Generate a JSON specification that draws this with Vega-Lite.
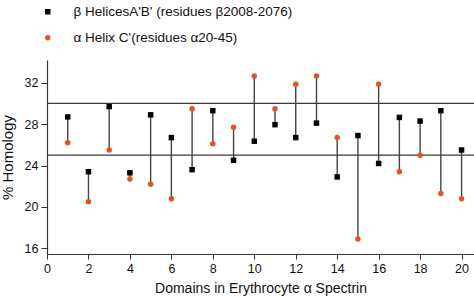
{
  "$schema": "https://vega.github.io/schema/vega-lite/v6.json",
  "width": 427,
  "height": 194,
  "autosize": {"type": "none"},
  "padding": {"left": 47, "top": 60, "right": 0, "bottom": 43},
  "background": "white",
  "config": {
    "view": {"stroke": null},
    "font": "Liberation Sans",
    "axis": {
      "domainColor": "#333333",
      "domainWidth": 1.2,
      "tickColor": "#333333",
      "tickWidth": 1,
      "labelColor": "#111111",
      "labelFont": "Liberation Sans",
      "labelFontSize": 12.5,
      "labelOverlap": false,
      "labelSeparation": -15,
      "titleFont": "Liberation Sans",
      "titleFontWeight": "normal",
      "titleColor": "#111111",
      "grid": false
    }
  },
  "data": {
    "values": [
      {"domain": 1, "beta": 28.7, "alpha": 26.2},
      {"domain": 2, "beta": 23.4, "alpha": 20.5},
      {"domain": 3, "beta": 29.7, "alpha": 25.5},
      {"domain": 4, "beta": 23.3, "alpha": 22.7},
      {"domain": 5, "beta": 28.9, "alpha": 22.2},
      {"domain": 6, "beta": 26.7, "alpha": 20.8},
      {"domain": 7, "beta": 23.6, "alpha": 29.5},
      {"domain": 8, "beta": 29.3, "alpha": 26.1},
      {"domain": 9, "beta": 24.5, "alpha": 27.7},
      {"domain": 10, "beta": 26.35, "alpha": 32.65},
      {"domain": 11, "beta": 27.95, "alpha": 29.5},
      {"domain": 12, "beta": 26.7, "alpha": 31.85},
      {"domain": 13, "beta": 28.1, "alpha": 32.65},
      {"domain": 14, "beta": 22.9, "alpha": 26.7},
      {"domain": 15, "beta": 26.9, "alpha": 16.9},
      {"domain": 16, "beta": 24.2, "alpha": 31.85},
      {"domain": 17, "beta": 28.65, "alpha": 23.4},
      {"domain": 18, "beta": 28.3, "alpha": 25.0},
      {"domain": 19, "beta": 29.3, "alpha": 21.3},
      {"domain": 20, "beta": 25.5, "alpha": 20.8}
    ]
  },
  "layer": [
    {
      "data": {"values": [{"level": 30}, {"level": 25}]},
      "mark": {"type": "rule", "color": "#3a3a3a", "strokeWidth": 1.2},
      "encoding": {
        "y": {
          "field": "level",
          "type": "quantitative",
          "scale": {"domain": [15.45, 34.2], "nice": false, "zero": false},
          "axis": {
            "values": [16, 17, 18, 19, 20, 21, 22, 23, 24, 25, 26, 27, 28, 29, 30, 31, 32, 33, 34],
            "labelExpr": "datum.value % 2 == 0 ? datum.label : ''",
            "tickSize": {"condition": {"test": "datum.value % 2 == 1", "value": 3}, "value": 6},
            "labelPadding": 3,
            "labelFlush": false,
            "labelOverlap": false,
            "labelSeparation": -15,
            "title": "% Homology",
            "titleFontSize": 15,
            "titlePadding": 9
          }
        }
      }
    },
    {
      "mark": {"type": "rule", "color": "#444444", "strokeWidth": 1.4},
      "encoding": {
        "x": {
          "field": "domain",
          "type": "quantitative",
          "scale": {"domain": [0, 20.6], "nice": false, "zero": false},
          "axis": {
            "values": [0, 1, 2, 3, 4, 5, 6, 7, 8, 9, 10, 11, 12, 13, 14, 15, 16, 17, 18, 19, 20],
            "labelExpr": "datum.value % 2 == 0 ? datum.label : ''",
            "tickSize": {"condition": {"test": "datum.value % 2 == 1", "value": 3}, "value": 5},
            "labelPadding": 3,
            "labelFlush": false,
            "labelOverlap": false,
            "labelSeparation": -15,
            "title": "Domains in Erythrocyte α Spectrin",
            "titleFontSize": 14,
            "titlePadding": 7
          }
        },
        "y": {"field": "beta", "type": "quantitative"},
        "y2": {"field": "alpha"}
      }
    },
    {
      "transform": [{"fold": ["beta", "alpha"], "as": ["series", "value"]}],
      "mark": {"type": "point", "filled": true, "opacity": 1, "size": 30},
      "encoding": {
        "x": {"field": "domain", "type": "quantitative"},
        "y": {"field": "value", "type": "quantitative"},
        "shape": {
          "field": "series",
          "type": "nominal",
          "scale": {"domain": ["beta", "alpha"], "range": ["square", "circle"]},
          "legend": null
        },
        "color": {
          "field": "series",
          "type": "nominal",
          "scale": {"domain": ["beta", "alpha"], "range": ["#000000", "#e4531f"]},
          "legend": {
            "title": null,
            "orient": "none",
            "legendX": -6,
            "legendY": -55,
            "padding": 0,
            "symbolType": "circle",
            "symbolSize": 30,
            "labelFont": "Liberation Sans",
            "labelFontSize": 13.5,
            "labelColor": "#111111",
            "labelOffset": 19,
            "labelLimit": 400,
            "rowPadding": 11,
            "labelExpr": "datum.value == 'beta' ? \"β HelicesA'B' (residues β2008-2076)\" : \"α Helix C'(residues α20-45)\""
          }
        }
      }
    }
  ]
}
